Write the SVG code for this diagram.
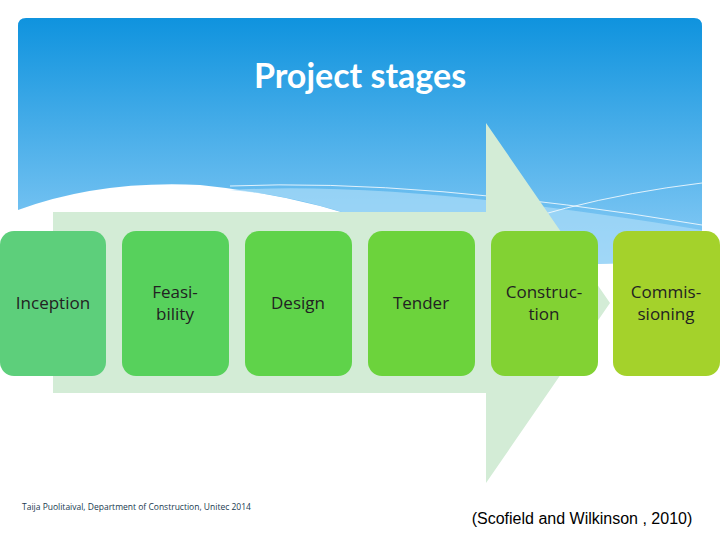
<svg xmlns="http://www.w3.org/2000/svg" width="720" height="540" viewBox="0 0 720 540">
<defs>
<linearGradient id="sky" x1="0" y1="0" x2="0" y2="1"><stop offset="0" stop-color="#0f93de"/><stop offset="1" stop-color="#8ccdf6"/></linearGradient>
<style>.n text{font-family:"Open Sans","Liberation Sans",sans-serif;font-size:17px;fill:#222;text-anchor:middle}</style>
</defs>
<rect width="720" height="540" fill="#fff"/>
<path d="M18,26 Q18,18 26,18 H694 Q702,18 702,26 V245 Q640,270 560,262 Q470,250 380,225 Q300,195 200,185 Q100,180 18,210 Z" fill="url(#sky)"/>
<path d="M230,190 Q400,180 702,230 V245 Q640,270 560,262 Q470,250 380,225 Q300,195 230,190Z" fill="#a9dcf8" opacity="0.7"/>
<path d="M230,186 Q420,178 702,225" fill="none" stroke="#fff" stroke-width="0.8"/>
<path d="M440,250 Q560,200 702,183" fill="none" stroke="#fff" stroke-width="0.8"/>
<text x="360" y="88" font-family="Lato,'Open Sans',sans-serif" font-size="34" font-weight="bold" fill="#fff" text-anchor="middle">Project stages</text>
<g id="connectors"><polygon points="53,212 486,212 486,123 610,303 486,483 486,393 53,393" fill="#d3ecd6"/></g>
<g id="n1" class="n"><rect x="0" y="231" width="106" height="145" rx="14" fill="#5dcf7b"/><text x="53" y="309">Inception</text></g>
<g id="n2" class="n"><rect x="122" y="231" width="107" height="145" rx="14" fill="#57d15c"/><text x="175" y="298">Feasi-</text><text x="175" y="320">bility</text></g>
<g id="n3" class="n"><rect x="245" y="231" width="107" height="145" rx="14" fill="#5fd34a"/><text x="298" y="309">Design</text></g>
<g id="n4" class="n"><rect x="368" y="231" width="107" height="145" rx="14" fill="#6cd33c"/><text x="421" y="309">Tender</text></g>
<g id="n5" class="n"><rect x="491" y="231" width="107" height="145" rx="14" fill="#82d233"/><text x="544" y="298">Construc-</text><text x="544" y="320">tion</text></g>
<g id="n6" class="n"><rect x="613" y="231" width="107" height="145" rx="14" fill="#a4d22b"/><text x="666" y="298">Commis-</text><text x="666" y="320">sioning</text></g>
<text x="22" y="510" font-family="'Open Sans',sans-serif" font-size="8.5" fill="#1a3a50">Taija Puolitaival, Department of Construction, Unitec 2014</text>
<text x="582" y="524" font-family="'Liberation Sans',Arial,sans-serif" font-size="16" fill="#000" text-anchor="middle">(Scofield and Wilkinson , 2010)</text>
</svg>
